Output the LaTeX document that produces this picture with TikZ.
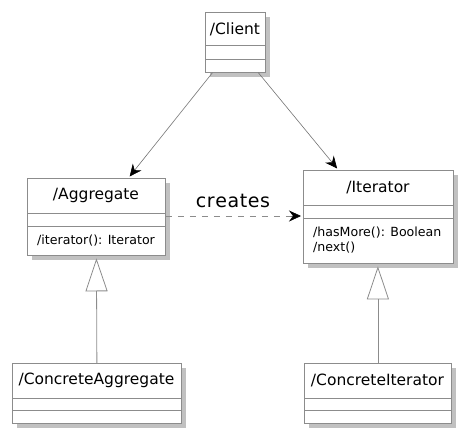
\documentclass[tikz,border=0pt]{standalone}
\usepackage{fontspec}
\setmainfont{DejaVu Sans}
\usetikzlibrary{arrows.meta,shadows,calc}
\tikzset{
  umlbox/.style={draw=black!45, fill=white, line width=0.8pt, inner sep=0pt, anchor=north west,
    drop shadow={shadow xshift=5pt, shadow yshift=-5pt, fill=black!35, opacity=0.7}},
  sep/.style={draw=black!45, line width=0.8pt},
  ttl/.style={font=\fontsize{15.5}{18}\selectfont, inner sep=0pt},
  attr/.style={font=\fontsize{12.6}{15}\selectfont, inner sep=0pt, anchor=west, align=left},
  assoc/.style={draw=black!55, line width=0.6pt, -{Stealth[length=12pt,width=11pt,inset=4pt,color=black]}, shorten >=2pt},
  gen/.style={draw=black!45, line width=0.8pt, -{Triangle[open,length=33pt,width=22pt]}, shorten >=2.5pt},
}
\begin{document}
\begin{tikzpicture}[x=1pt,y=-1pt]
\useasboundingbox (0,0) rectangle (474,444);
% Client
\node[umlbox, minimum width=60pt, minimum height=60pt] (client) at (205,12) {};
\draw[sep] (205,45) -- (265,45) (205,59) -- (265,59);
\node[ttl] (clientT) at (235,29) {/Client};
% Aggregate
\node[umlbox, minimum width=138pt, minimum height=77pt] (agg) at (27,178) {};
\draw[sep] (27,213) -- (165,213) (27,226) -- (165,226);
\node[ttl] (aggT) at (96,195.5) {/Aggregate};
\node[attr] (aggA) at (37,241) {/iterator(): Iterator};
% Iterator
\node[umlbox, minimum width=150pt, minimum height=93pt] (it) at (303,170) {};
\draw[sep] (303,205) -- (453,205) (303,218) -- (453,218);
\node[ttl] (itT) at (378,187.5) {/Iterator};
\node[attr] (itA) at (313,233) {/hasMore(): Boolean};
\node[attr] (itB) at (313,248) {/next()};
% ConcreteAggregate
\node[umlbox, minimum width=169pt, minimum height=60pt] (cagg) at (12,363) {};
\draw[sep] (12,398) -- (181,398) (12,410) -- (181,410);
\node[ttl] (caggT) at (96.5,380.5) {/ConcreteAggregate};
% ConcreteIterator
\node[umlbox, minimum width=147pt, minimum height=60pt] (cit) at (304,363) {};
\draw[sep] (304,398) -- (451,398) (304,410) -- (451,410);
\node[ttl] (citT) at (377.5,380.5) {/ConcreteIterator};
% connectors
\draw[assoc] ([xshift=-23pt]client.south) -- ([xshift=32pt]agg.north);
\draw[assoc] ([xshift=23pt]client.south) -- ([xshift=-40pt]it.north);
\coordinate (dstart) at (agg.east |- 0,216);
\coordinate (dend) at (it.west |- 0,216);
\draw[draw=black!45, line width=0.8pt, dash pattern=on 6pt off 6pt] (dstart) -- ([xshift=-10pt]dend);
\draw[line width=0.6pt, -{Stealth[length=12pt,width=11pt,inset=4pt,color=black]}, draw=black!55] ([xshift=-12pt]dend) -- ([xshift=-2pt]dend);
\node[font=\fontsize{19}{21}\selectfont, inner sep=0pt] (lbl) at (233,201) {c\kern0.6pt r\kern0.6pt e\kern0.6pt a\kern0.6pt t\kern0.6pt e\kern0.6pt s};
\draw[gen] (cagg.north) -- (agg.south);
\draw[gen] (cit.north) -- ([xshift=-0.5pt]it.south);
\end{tikzpicture}
\end{document}
